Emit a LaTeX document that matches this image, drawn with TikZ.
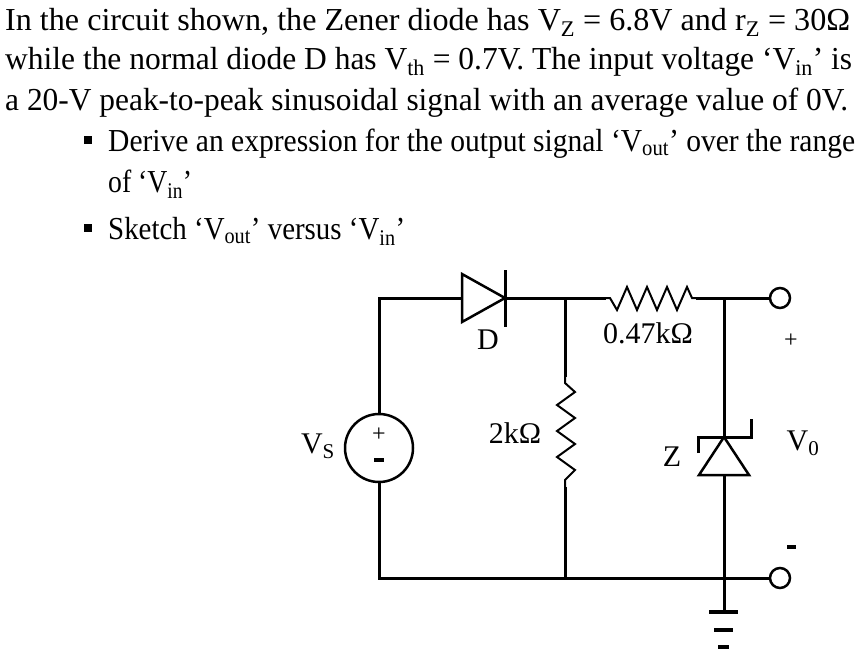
\documentclass[tikz,border=0pt]{standalone}
\usepackage{fontspec}
\usepackage{graphicx}
\setmainfont{Liberation Serif}
\begin{document}
\begin{tikzpicture}[x=1pt,y=-1pt,
  wire/.style={line width=3pt},
  res/.style={line width=2pt,line join=miter},
  txt/.style={font=\fontsize{32}{36}\selectfont,inner sep=0pt,anchor=base west},
  lbl/.style={font=\fontsize{30}{32}\selectfont,inner sep=0pt},
  term/.style={circle,draw,line width=2.5pt,minimum size=20pt,inner sep=0pt,fill=white}]
\useasboundingbox (0,0) rectangle (858,656);
% text
\node[txt] (l1) at (5,30) {\resizebox{845pt}{\height}{In the circuit shown, the Zener diode has V\textsubscript{Z} = 6.8V and r\textsubscript{Z} = 30Ω}};
\node[txt] (l2) at (5,69) {\resizebox{847pt}{\height}{while the normal diode D has V\textsubscript{th} = 0.7V. The input voltage ‘V\textsubscript{in}’ is}};
\node[txt] (l3) at (5,110) {\resizebox{843pt}{\height}{a 20-V peak-to-peak sinusoidal signal with an average value of 0V.}};
\node[fill,minimum size=8pt,inner sep=0pt] (b1) at (88,140) {};
\node[txt] (l4) at (108,151) {\resizebox{747pt}{\height}{Derive an expression for the output signal ‘V\textsubscript{out}’ over the range}};
\node[txt] (l5) at (108,192) {\resizebox{84pt}{\height}{of ‘V\textsubscript{in}’}};
\node[fill,minimum size=8pt,inner sep=0pt] (b2) at (88,228) {};
\node[txt] (l6) at (108,239) {\resizebox{297pt}{\height}{Sketch ‘V\textsubscript{out}’ versus ‘V\textsubscript{in}’}};
% coordinates
\coordinate (tl) at (379,298);
\coordinate (bl) at (379,578);
\coordinate (da) at (462,298);
\coordinate (dk) at (505,298);
\coordinate (j1) at (565,298);
\coordinate (j1b) at (565,578);
\coordinate (ra) at (606,298);
\coordinate (rb) at (696,298);
\coordinate (j2) at (724,298);
\coordinate (j2b) at (724,578);
\coordinate (zt) at (724,437);
\coordinate (zb) at (724,475);
\coordinate (gnd) at (724,612);
\node[term] (ot) at (780,298) {};
\node[term] (ob) at (780,578) {};
% source
\node[circle,draw,line width=2.5pt,minimum size=68pt,inner sep=0pt] (vs) at (379,448) {};
\node[font=\fontsize{24}{26}\selectfont,inner sep=0pt] (vp) at (379,435) {+};
\node[fill,minimum width=10pt,minimum height=3.5pt,inner sep=0pt] (vm) at (379,460) {};
% wires
\draw[wire] (vs.north) -- (tl) -- (da);
\draw[wire] (vs.south) -- (bl) -- (ob.west);
\draw[wire] (dk) -- (ra);
\draw[wire] (rb) -- (ot.west);
\draw[wire] (j1) -- (565,377);
\draw[wire] (565,487) -- (j1b);
\draw[wire] (j2) -- (zt);
\draw[wire] (zb) -- (gnd);
% diode D
\draw[line width=2.5pt,line join=miter] (da) ++(0,-24) -- (dk) -- (462,322) -- cycle;
\draw[wire] (505,270) -- (505,327);
% 0.47k resistor
\draw[res] (ra) -- (610,298) -- (617,310) -- (627,287) -- (637,310) -- (647,287) -- (657,310) -- (667,287) -- (677,310) -- (687,287) -- (692,298) -- (rb);
% 2k resistor
\draw[res] (565,377) -- (565,383) -- (575,392) -- (557,405) -- (575,418) -- (557,431) -- (575,444) -- (557,457) -- (575,470) -- (565,480) -- (565,487);
% zener
\draw[line width=2.5pt,line join=miter] (zt) -- (749,475) -- (699,475) -- cycle;
\draw[wire] (698,453) -- (698,437) -- (751,437) -- (751,419);
% ground
\draw[line width=4pt] (709,612) -- (738,612);
\draw[line width=4pt] (714,630) -- (733,630);
\draw[line width=4pt] (718,647) -- (729,647);
% labels
\node[lbl] (lD) at (488,340) {D};
\node[lbl] (lR1) at (648,333) {0.47kΩ};
\node[lbl] (lR2) at (515,433) {2kΩ};
\node[lbl] (lZ) at (672,457) {Z};
\node[lbl] (lVs) at (318,446) {V\textsubscript{S}};
\node[lbl] (lVo) at (803,443) {V\textsubscript{0}};
\node[lbl,font=\fontsize{24}{26}\selectfont] (lp) at (791,341) {+};
\node[fill,minimum width=9pt,minimum height=3.5pt,inner sep=0pt] (lm) at (791,547) {};
\end{tikzpicture}
\end{document}
